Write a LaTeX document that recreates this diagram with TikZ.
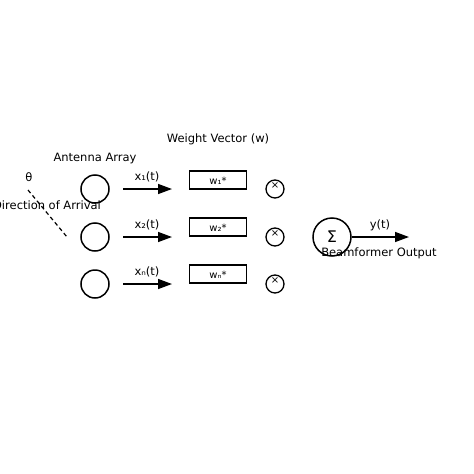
\documentclass[tikz,border=0pt]{standalone}
\usepackage{fontspec}
\setmainfont{DejaVu Sans}
\usetikzlibrary{arrows.meta}
\begin{document}
\begin{tikzpicture}[x=1pt,y=-1pt,
  lbl/.style={font=\fontsize{11.5}{13}\selectfont, inner sep=0pt},
  wlbl/.style={font=\fontsize{10}{11}\selectfont, inner sep=0pt},
  ant/.style={circle, draw, line width=1.5pt, minimum size=28pt, inner sep=0pt},
  mul/.style={circle, draw, line width=1.3pt, minimum size=18pt, inner sep=0pt},
  wbox/.style={rectangle, draw, line width=1.3pt, minimum width=57pt, minimum height=18pt, inner sep=0pt},
  sig/.style={-{Triangle[length=14pt,width=10pt]}, line width=1.4pt},
]
\useasboundingbox (0,0) rectangle (474,474);
% antenna elements
\node[ant] (a1) at (95,189) {};
\node[ant] (a2) at (95,237) {};
\node[ant] (a3) at (95,284) {};
\node[lbl] (aa) at (95,158.5) {Antenna Array};
% arrows
\coordinate (s1) at (123,189); \coordinate (e1) at (172,189);
\coordinate (s2) at (123,237); \coordinate (e2) at (172,237);
\coordinate (s3) at (123,284); \coordinate (e3) at (172,284);
\draw[sig] (s1) -- (e1);
\draw[sig] (s2) -- (e2);
\draw[sig] (s3) -- (e3);
\node[lbl] (x1) at (147,177) {x₁(t)};
\node[lbl] (x2) at (147,225) {x₂(t)};
\node[lbl] (x3) at (147,272) {xₙ(t)};
% weights
\node[lbl] (wv) at (218,139.5) {Weight Vector (w)};
\node[wbox] (w1) at (218,180) {};
\node[wbox] (w2) at (218,227) {};
\node[wbox] (w3) at (218,274) {};
\node[wlbl] at (218,181) {w₁*};
\node[wlbl] at (218,228) {w₂*};
\node[wlbl] at (218,275) {wₙ*};
% multipliers
\node[mul] (m1) at (275,189) {};
\node[mul] (m2) at (275,237) {};
\node[mul] (m3) at (275,284) {};
\node[wlbl] at (275,185.5) {×};
\node[wlbl] at (275,233.5) {×};
\node[wlbl] at (275,280.5) {×};
% summer
\node[circle, draw, line width=1.5pt, minimum size=38pt, inner sep=0pt] (sum) at (332,237) {};
\node[font=\fontsize{16}{18}\selectfont, inner sep=0pt] at (332,237) {Σ};
\coordinate (out) at (409,237);
\draw[sig] (sum.east) -- (out);
\node[lbl] (yt) at (380,225) {y(t)};
\node[lbl] (bo) at (379,253) {Beamformer Output};
% direction of arrival
\coordinate (d1) at (28,190);
\coordinate (d2) at (67,237);
\draw[line width=1.2pt, dash pattern=on 4pt off 3pt] (d1) -- (d2);
\node[lbl] (th) at (29,177) {θ};
\node[lbl] (doa) at (47,205) {Direction of Arrival};
\end{tikzpicture}
\end{document}
